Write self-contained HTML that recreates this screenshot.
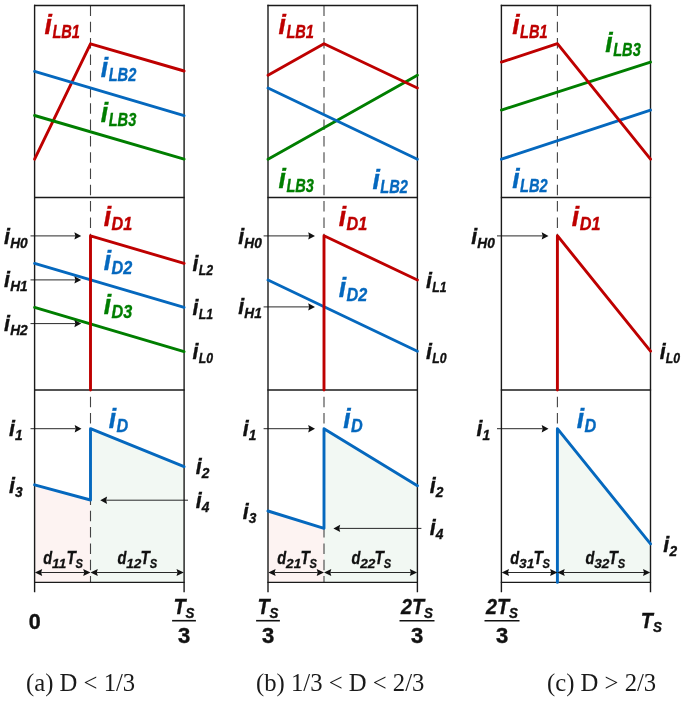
<!DOCTYPE html>
<html><head><meta charset="utf-8"><title>Diode current waveforms</title>
<style>html,body{margin:0;padding:0;background:#fff}svg{display:block}</style></head>
<body><svg width="685" height="701" viewBox="0 0 685 701">
<rect width="685" height="701" fill="#fff"/>
<polygon points="34.6,484.8 90.5,500.0 90.5,582.4 34.6,582.4" fill="#fdf3f2"/>
<polygon points="90.5,428.7 184.1,466.6 184.1,582.4 90.5,582.4" fill="#f2f8f3"/>
<polygon points="268.0,511.0 324.0,528.3 324.0,582.4 268.0,582.4" fill="#fdf3f2"/>
<polygon points="324.0,428.7 417.4,485.8 417.4,582.4 324.0,582.4" fill="#f2f8f3"/>
<polygon points="557.4,428.7 650.5,543.9 650.5,582.4 557.4,582.4" fill="#f2f8f3"/>
<line x1="90.5" y1="5.5" x2="90.5" y2="582.4" stroke="#444" stroke-width="1.1" stroke-dasharray="10.5 5.8"/>
<line x1="34.0" y1="5.5" x2="184.7" y2="5.5" stroke="#1a1a1a" stroke-width="1.4" />
<line x1="34.0" y1="197.5" x2="184.7" y2="197.5" stroke="#1a1a1a" stroke-width="1.4" />
<line x1="34.0" y1="390.0" x2="184.7" y2="390.0" stroke="#1a1a1a" stroke-width="1.4" />
<line x1="34.0" y1="582.4" x2="184.7" y2="582.4" stroke="#1a1a1a" stroke-width="1.4" />
<line x1="34.6" y1="4.8" x2="34.6" y2="592.3" stroke="#1a1a1a" stroke-width="1.4" />
<line x1="184.1" y1="4.8" x2="184.1" y2="592.3" stroke="#1a1a1a" stroke-width="1.4" />
<line x1="324.0" y1="5.5" x2="324.0" y2="582.4" stroke="#444" stroke-width="1.1" stroke-dasharray="10.5 5.8"/>
<line x1="267.4" y1="5.5" x2="418.0" y2="5.5" stroke="#1a1a1a" stroke-width="1.4" />
<line x1="267.4" y1="197.5" x2="418.0" y2="197.5" stroke="#1a1a1a" stroke-width="1.4" />
<line x1="267.4" y1="390.0" x2="418.0" y2="390.0" stroke="#1a1a1a" stroke-width="1.4" />
<line x1="267.4" y1="582.4" x2="418.0" y2="582.4" stroke="#1a1a1a" stroke-width="1.4" />
<line x1="268.0" y1="4.8" x2="268.0" y2="592.3" stroke="#1a1a1a" stroke-width="1.4" />
<line x1="417.4" y1="4.8" x2="417.4" y2="592.3" stroke="#1a1a1a" stroke-width="1.4" />
<line x1="557.4" y1="5.5" x2="557.4" y2="582.4" stroke="#444" stroke-width="1.1" stroke-dasharray="10.5 5.8"/>
<line x1="500.8" y1="5.5" x2="651.1" y2="5.5" stroke="#1a1a1a" stroke-width="1.4" />
<line x1="500.8" y1="197.5" x2="651.1" y2="197.5" stroke="#1a1a1a" stroke-width="1.4" />
<line x1="500.8" y1="390.0" x2="651.1" y2="390.0" stroke="#1a1a1a" stroke-width="1.4" />
<line x1="500.8" y1="582.4" x2="651.1" y2="582.4" stroke="#1a1a1a" stroke-width="1.4" />
<line x1="501.4" y1="4.8" x2="501.4" y2="592.3" stroke="#1a1a1a" stroke-width="1.4" />
<line x1="650.5" y1="4.8" x2="650.5" y2="592.3" stroke="#1a1a1a" stroke-width="1.4" />
<polyline points="34.6,159.2 90.5,43.8 184.1,71.0" fill="none" stroke="#be0000" stroke-width="2.9" stroke-linejoin="round" stroke-linecap="round"/>
<polyline points="34.6,71.4 184.1,115.7" fill="none" stroke="#0568be" stroke-width="2.9" stroke-linejoin="round" stroke-linecap="round"/>
<polyline points="34.6,115.5 184.1,159.2" fill="none" stroke="#007e00" stroke-width="2.9" stroke-linejoin="round" stroke-linecap="round"/>
<polyline points="268.0,159.2 417.4,75.2" fill="none" stroke="#007e00" stroke-width="2.9" stroke-linejoin="round" stroke-linecap="round"/>
<polyline points="268.0,88.0 417.4,159.2" fill="none" stroke="#0568be" stroke-width="2.9" stroke-linejoin="round" stroke-linecap="round"/>
<polyline points="268.0,75.2 324.0,43.7 417.4,88.0" fill="none" stroke="#be0000" stroke-width="2.9" stroke-linejoin="round" stroke-linecap="round"/>
<polyline points="501.4,159.2 650.5,110.1" fill="none" stroke="#0568be" stroke-width="2.9" stroke-linejoin="round" stroke-linecap="round"/>
<polyline points="501.4,110.1 650.5,62.1" fill="none" stroke="#007e00" stroke-width="2.9" stroke-linejoin="round" stroke-linecap="round"/>
<polyline points="501.4,62.1 557.4,43.7 650.5,159.2" fill="none" stroke="#be0000" stroke-width="2.9" stroke-linejoin="round" stroke-linecap="round"/>
<polyline points="34.6,307.4 184.1,351.7" fill="none" stroke="#007e00" stroke-width="2.9" stroke-linejoin="round" stroke-linecap="round"/>
<polyline points="34.6,263.4 184.1,307.4" fill="none" stroke="#0568be" stroke-width="2.9" stroke-linejoin="round" stroke-linecap="round"/>
<polyline points="90.5,390.0 90.5,235.8 184.1,263.4" fill="none" stroke="#be0000" stroke-width="2.9" stroke-linejoin="round" stroke-linecap="round"/>
<polyline points="268.0,280.0 417.4,351.2" fill="none" stroke="#0568be" stroke-width="2.9" stroke-linejoin="round" stroke-linecap="round"/>
<polyline points="324.0,390.0 324.0,235.7 417.4,280.0" fill="none" stroke="#be0000" stroke-width="2.9" stroke-linejoin="round" stroke-linecap="round"/>
<polyline points="557.4,390.0 557.4,235.7 650.5,351.2" fill="none" stroke="#be0000" stroke-width="2.9" stroke-linejoin="round" stroke-linecap="round"/>
<polyline points="34.6,484.8 90.5,500.0 90.5,428.7 184.1,466.6" fill="none" stroke="#0568be" stroke-width="2.9" stroke-linejoin="round" stroke-linecap="round"/>
<polyline points="268.0,511.0 324.0,528.3 324.0,428.7 417.4,485.8" fill="none" stroke="#0568be" stroke-width="2.9" stroke-linejoin="round" stroke-linecap="round"/>
<polyline points="557.4,582.4 557.4,428.7 650.5,543.9" fill="none" stroke="#0568be" stroke-width="2.9" stroke-linejoin="round" stroke-linecap="round"/>
<line x1="30.5" y1="235.9" x2="75.3" y2="235.9" stroke="#111" stroke-width="0.9" />
<polygon points="81.2,235.9 74.4,232.2 75.3,235.9 74.4,239.6" fill="#111"/>
<line x1="30.5" y1="279.9" x2="75.3" y2="279.9" stroke="#111" stroke-width="0.9" />
<polygon points="81.2,279.9 74.4,276.2 75.3,279.9 74.4,283.6" fill="#111"/>
<line x1="30.5" y1="323.6" x2="75.3" y2="323.6" stroke="#111" stroke-width="0.9" />
<polygon points="81.2,323.6 74.4,319.9 75.3,323.6 74.4,327.3" fill="#111"/>
<line x1="263.6" y1="235.9" x2="309.1" y2="235.9" stroke="#111" stroke-width="0.9" />
<polygon points="315.0,235.9 308.2,232.2 309.1,235.9 308.2,239.6" fill="#111"/>
<line x1="263.6" y1="306.9" x2="309.1" y2="306.9" stroke="#111" stroke-width="0.9" />
<polygon points="315.0,306.9 308.2,303.2 309.1,306.9 308.2,310.6" fill="#111"/>
<line x1="497.0" y1="235.9" x2="542.6" y2="235.9" stroke="#111" stroke-width="0.9" />
<polygon points="548.5,235.9 541.7,232.2 542.6,235.9 541.7,239.6" fill="#111"/>
<line x1="30.5" y1="428.7" x2="75.6" y2="428.7" stroke="#111" stroke-width="0.9" />
<polygon points="81.5,428.7 74.7,425.0 75.6,428.7 74.7,432.4" fill="#111"/>
<line x1="263.6" y1="428.7" x2="309.1" y2="428.7" stroke="#111" stroke-width="0.9" />
<polygon points="315.0,428.7 308.2,425.0 309.1,428.7 308.2,432.4" fill="#111"/>
<line x1="497.0" y1="428.7" x2="542.6" y2="428.7" stroke="#111" stroke-width="0.9" />
<polygon points="548.5,428.7 541.7,425.0 542.6,428.7 541.7,432.4" fill="#111"/>
<line x1="188.0" y1="500.2" x2="106.2" y2="500.2" stroke="#111" stroke-width="0.9" />
<polygon points="100.3,500.2 107.1,496.5 106.2,500.2 107.1,503.9" fill="#111"/>
<line x1="421.4" y1="528.4" x2="339.3" y2="528.4" stroke="#111" stroke-width="0.9" />
<polygon points="333.4,528.4 340.2,524.7 339.3,528.4 340.2,532.1" fill="#111"/>
<line x1="41.2" y1="572.5" x2="84.2" y2="572.5" stroke="#111" stroke-width="0.9" />
<polygon points="34.9,572.5 42.2,568.9 41.2,572.5 42.2,576.1" fill="#111"/>
<polygon points="90.5,572.5 83.2,568.9 84.2,572.5 83.2,576.1" fill="#111"/>
<line x1="96.8" y1="572.5" x2="177.5" y2="572.5" stroke="#111" stroke-width="0.9" />
<polygon points="90.5,572.5 97.8,568.9 96.8,572.5 97.8,576.1" fill="#111"/>
<polygon points="183.8,572.5 176.5,568.9 177.5,572.5 176.5,576.1" fill="#111"/>
<line x1="274.6" y1="572.5" x2="317.7" y2="572.5" stroke="#111" stroke-width="0.9" />
<polygon points="268.3,572.5 275.6,568.9 274.6,572.5 275.6,576.1" fill="#111"/>
<polygon points="324.0,572.5 316.7,568.9 317.7,572.5 316.7,576.1" fill="#111"/>
<line x1="330.3" y1="572.5" x2="410.8" y2="572.5" stroke="#111" stroke-width="0.9" />
<polygon points="324.0,572.5 331.3,568.9 330.3,572.5 331.3,576.1" fill="#111"/>
<polygon points="417.1,572.5 409.8,568.9 410.8,572.5 409.8,576.1" fill="#111"/>
<line x1="508.0" y1="572.5" x2="551.1" y2="572.5" stroke="#111" stroke-width="0.9" />
<polygon points="501.7,572.5 509.0,568.9 508.0,572.5 509.0,576.1" fill="#111"/>
<polygon points="557.4,572.5 550.1,568.9 551.1,572.5 550.1,576.1" fill="#111"/>
<line x1="563.7" y1="572.5" x2="644.0" y2="572.5" stroke="#111" stroke-width="0.9" />
<polygon points="557.4,572.5 564.7,568.9 563.7,572.5 564.7,576.1" fill="#111"/>
<polygon points="650.2,572.5 643.0,568.9 644.0,572.5 643.0,576.1" fill="#111"/>
<text transform="translate(44.55,33.50) scale(0.95,1)" font-size="28" fill="#be0000" stroke="#be0000" stroke-width="0.35" font-family="Liberation Sans, sans-serif" font-weight="bold" font-style="italic">i</text>
<text transform="translate(52.40,37.50) scale(0.82,1)" font-size="17.8" fill="#be0000" stroke="#be0000" stroke-width="0.35" font-family="Liberation Sans, sans-serif" font-weight="bold" font-style="italic">LB1</text>
<text transform="translate(100.85,77.40) scale(0.95,1)" font-size="28" fill="#0568be" stroke="#0568be" stroke-width="0.35" font-family="Liberation Sans, sans-serif" font-weight="bold" font-style="italic">i</text>
<text transform="translate(108.70,81.40) scale(0.82,1)" font-size="17.8" fill="#0568be" stroke="#0568be" stroke-width="0.35" font-family="Liberation Sans, sans-serif" font-weight="bold" font-style="italic">LB2</text>
<text transform="translate(100.85,121.70) scale(0.95,1)" font-size="28" fill="#007e00" stroke="#007e00" stroke-width="0.35" font-family="Liberation Sans, sans-serif" font-weight="bold" font-style="italic">i</text>
<text transform="translate(108.70,125.70) scale(0.82,1)" font-size="17.8" fill="#007e00" stroke="#007e00" stroke-width="0.35" font-family="Liberation Sans, sans-serif" font-weight="bold" font-style="italic">LB3</text>
<text transform="translate(278.55,34.00) scale(0.95,1)" font-size="28" fill="#be0000" stroke="#be0000" stroke-width="0.35" font-family="Liberation Sans, sans-serif" font-weight="bold" font-style="italic">i</text>
<text transform="translate(286.40,38.00) scale(0.82,1)" font-size="17.8" fill="#be0000" stroke="#be0000" stroke-width="0.35" font-family="Liberation Sans, sans-serif" font-weight="bold" font-style="italic">LB1</text>
<text transform="translate(278.55,188.30) scale(0.95,1)" font-size="28" fill="#007e00" stroke="#007e00" stroke-width="0.35" font-family="Liberation Sans, sans-serif" font-weight="bold" font-style="italic">i</text>
<text transform="translate(286.40,192.30) scale(0.82,1)" font-size="17.8" fill="#007e00" stroke="#007e00" stroke-width="0.35" font-family="Liberation Sans, sans-serif" font-weight="bold" font-style="italic">LB3</text>
<text transform="translate(372.45,188.60) scale(0.95,1)" font-size="28" fill="#0568be" stroke="#0568be" stroke-width="0.35" font-family="Liberation Sans, sans-serif" font-weight="bold" font-style="italic">i</text>
<text transform="translate(380.30,192.60) scale(0.82,1)" font-size="17.8" fill="#0568be" stroke="#0568be" stroke-width="0.35" font-family="Liberation Sans, sans-serif" font-weight="bold" font-style="italic">LB2</text>
<text transform="translate(512.15,33.80) scale(0.95,1)" font-size="28" fill="#be0000" stroke="#be0000" stroke-width="0.35" font-family="Liberation Sans, sans-serif" font-weight="bold" font-style="italic">i</text>
<text transform="translate(520.00,37.80) scale(0.82,1)" font-size="17.8" fill="#be0000" stroke="#be0000" stroke-width="0.35" font-family="Liberation Sans, sans-serif" font-weight="bold" font-style="italic">LB1</text>
<text transform="translate(605.35,52.20) scale(0.95,1)" font-size="28" fill="#007e00" stroke="#007e00" stroke-width="0.35" font-family="Liberation Sans, sans-serif" font-weight="bold" font-style="italic">i</text>
<text transform="translate(613.20,56.20) scale(0.82,1)" font-size="17.8" fill="#007e00" stroke="#007e00" stroke-width="0.35" font-family="Liberation Sans, sans-serif" font-weight="bold" font-style="italic">LB3</text>
<text transform="translate(512.15,187.60) scale(0.95,1)" font-size="28" fill="#0568be" stroke="#0568be" stroke-width="0.35" font-family="Liberation Sans, sans-serif" font-weight="bold" font-style="italic">i</text>
<text transform="translate(520.00,191.60) scale(0.82,1)" font-size="17.8" fill="#0568be" stroke="#0568be" stroke-width="0.35" font-family="Liberation Sans, sans-serif" font-weight="bold" font-style="italic">LB2</text>
<text transform="translate(103.75,225.70) scale(0.95,1)" font-size="28" fill="#be0000" stroke="#be0000" stroke-width="0.35" font-family="Liberation Sans, sans-serif" font-weight="bold" font-style="italic">i</text>
<text transform="translate(111.60,229.70) scale(0.91,1)" font-size="17.8" fill="#be0000" stroke="#be0000" stroke-width="0.35" font-family="Liberation Sans, sans-serif" font-weight="bold" font-style="italic">D1</text>
<text transform="translate(103.75,269.70) scale(0.95,1)" font-size="28" fill="#0568be" stroke="#0568be" stroke-width="0.35" font-family="Liberation Sans, sans-serif" font-weight="bold" font-style="italic">i</text>
<text transform="translate(111.60,273.70) scale(0.91,1)" font-size="17.8" fill="#0568be" stroke="#0568be" stroke-width="0.35" font-family="Liberation Sans, sans-serif" font-weight="bold" font-style="italic">D2</text>
<text transform="translate(103.75,313.70) scale(0.95,1)" font-size="28" fill="#007e00" stroke="#007e00" stroke-width="0.35" font-family="Liberation Sans, sans-serif" font-weight="bold" font-style="italic">i</text>
<text transform="translate(111.60,317.70) scale(0.91,1)" font-size="17.8" fill="#007e00" stroke="#007e00" stroke-width="0.35" font-family="Liberation Sans, sans-serif" font-weight="bold" font-style="italic">D3</text>
<text transform="translate(338.75,225.50) scale(0.95,1)" font-size="28" fill="#be0000" stroke="#be0000" stroke-width="0.35" font-family="Liberation Sans, sans-serif" font-weight="bold" font-style="italic">i</text>
<text transform="translate(346.60,229.50) scale(0.91,1)" font-size="17.8" fill="#be0000" stroke="#be0000" stroke-width="0.35" font-family="Liberation Sans, sans-serif" font-weight="bold" font-style="italic">D1</text>
<text transform="translate(338.75,297.20) scale(0.95,1)" font-size="28" fill="#0568be" stroke="#0568be" stroke-width="0.35" font-family="Liberation Sans, sans-serif" font-weight="bold" font-style="italic">i</text>
<text transform="translate(346.60,301.20) scale(0.91,1)" font-size="17.8" fill="#0568be" stroke="#0568be" stroke-width="0.35" font-family="Liberation Sans, sans-serif" font-weight="bold" font-style="italic">D2</text>
<text transform="translate(571.85,225.70) scale(0.95,1)" font-size="28" fill="#be0000" stroke="#be0000" stroke-width="0.35" font-family="Liberation Sans, sans-serif" font-weight="bold" font-style="italic">i</text>
<text transform="translate(579.70,229.70) scale(0.91,1)" font-size="17.8" fill="#be0000" stroke="#be0000" stroke-width="0.35" font-family="Liberation Sans, sans-serif" font-weight="bold" font-style="italic">D1</text>
<text transform="translate(4.12,243.80) scale(0.95,1)" font-size="22.5" fill="#111" stroke="#111" stroke-width="0.35" font-family="Liberation Sans, sans-serif" font-weight="bold" font-style="italic">i</text>
<text transform="translate(10.20,247.80) scale(0.94,1)" font-size="14.6" fill="#111" stroke="#111" stroke-width="0.35" font-family="Liberation Sans, sans-serif" font-weight="bold" font-style="italic">H0</text>
<text transform="translate(4.12,287.30) scale(0.95,1)" font-size="22.5" fill="#111" stroke="#111" stroke-width="0.35" font-family="Liberation Sans, sans-serif" font-weight="bold" font-style="italic">i</text>
<text transform="translate(10.20,291.30) scale(0.94,1)" font-size="14.6" fill="#111" stroke="#111" stroke-width="0.35" font-family="Liberation Sans, sans-serif" font-weight="bold" font-style="italic">H1</text>
<text transform="translate(4.12,331.00) scale(0.95,1)" font-size="22.5" fill="#111" stroke="#111" stroke-width="0.35" font-family="Liberation Sans, sans-serif" font-weight="bold" font-style="italic">i</text>
<text transform="translate(10.20,335.00) scale(0.94,1)" font-size="14.6" fill="#111" stroke="#111" stroke-width="0.35" font-family="Liberation Sans, sans-serif" font-weight="bold" font-style="italic">H2</text>
<text transform="translate(192.62,270.90) scale(0.95,1)" font-size="22.5" fill="#111" stroke="#111" stroke-width="0.35" font-family="Liberation Sans, sans-serif" font-weight="bold" font-style="italic">i</text>
<text transform="translate(198.70,274.90) scale(0.84,1)" font-size="14.6" fill="#111" stroke="#111" stroke-width="0.35" font-family="Liberation Sans, sans-serif" font-weight="bold" font-style="italic">L2</text>
<text transform="translate(192.62,314.90) scale(0.95,1)" font-size="22.5" fill="#111" stroke="#111" stroke-width="0.35" font-family="Liberation Sans, sans-serif" font-weight="bold" font-style="italic">i</text>
<text transform="translate(198.70,318.90) scale(0.84,1)" font-size="14.6" fill="#111" stroke="#111" stroke-width="0.35" font-family="Liberation Sans, sans-serif" font-weight="bold" font-style="italic">L1</text>
<text transform="translate(192.62,358.90) scale(0.95,1)" font-size="22.5" fill="#111" stroke="#111" stroke-width="0.35" font-family="Liberation Sans, sans-serif" font-weight="bold" font-style="italic">i</text>
<text transform="translate(198.70,362.90) scale(0.84,1)" font-size="14.6" fill="#111" stroke="#111" stroke-width="0.35" font-family="Liberation Sans, sans-serif" font-weight="bold" font-style="italic">L0</text>
<text transform="translate(238.22,243.80) scale(0.95,1)" font-size="22.5" fill="#111" stroke="#111" stroke-width="0.35" font-family="Liberation Sans, sans-serif" font-weight="bold" font-style="italic">i</text>
<text transform="translate(244.30,247.80) scale(0.94,1)" font-size="14.6" fill="#111" stroke="#111" stroke-width="0.35" font-family="Liberation Sans, sans-serif" font-weight="bold" font-style="italic">H0</text>
<text transform="translate(238.22,313.50) scale(0.95,1)" font-size="22.5" fill="#111" stroke="#111" stroke-width="0.35" font-family="Liberation Sans, sans-serif" font-weight="bold" font-style="italic">i</text>
<text transform="translate(244.30,317.50) scale(0.94,1)" font-size="14.6" fill="#111" stroke="#111" stroke-width="0.35" font-family="Liberation Sans, sans-serif" font-weight="bold" font-style="italic">H1</text>
<text transform="translate(426.11,288.00) scale(0.95,1)" font-size="22.5" fill="#111" stroke="#111" stroke-width="0.35" font-family="Liberation Sans, sans-serif" font-weight="bold" font-style="italic">i</text>
<text transform="translate(432.20,292.00) scale(0.84,1)" font-size="14.6" fill="#111" stroke="#111" stroke-width="0.35" font-family="Liberation Sans, sans-serif" font-weight="bold" font-style="italic">L1</text>
<text transform="translate(426.11,359.00) scale(0.95,1)" font-size="22.5" fill="#111" stroke="#111" stroke-width="0.35" font-family="Liberation Sans, sans-serif" font-weight="bold" font-style="italic">i</text>
<text transform="translate(432.20,363.00) scale(0.84,1)" font-size="14.6" fill="#111" stroke="#111" stroke-width="0.35" font-family="Liberation Sans, sans-serif" font-weight="bold" font-style="italic">L0</text>
<text transform="translate(471.21,243.80) scale(0.95,1)" font-size="22.5" fill="#111" stroke="#111" stroke-width="0.35" font-family="Liberation Sans, sans-serif" font-weight="bold" font-style="italic">i</text>
<text transform="translate(477.30,247.80) scale(0.94,1)" font-size="14.6" fill="#111" stroke="#111" stroke-width="0.35" font-family="Liberation Sans, sans-serif" font-weight="bold" font-style="italic">H0</text>
<text transform="translate(659.72,359.00) scale(0.95,1)" font-size="22.5" fill="#111" stroke="#111" stroke-width="0.35" font-family="Liberation Sans, sans-serif" font-weight="bold" font-style="italic">i</text>
<text transform="translate(665.80,363.00) scale(0.84,1)" font-size="14.6" fill="#111" stroke="#111" stroke-width="0.35" font-family="Liberation Sans, sans-serif" font-weight="bold" font-style="italic">L0</text>
<text transform="translate(108.65,428.30) scale(0.95,1)" font-size="28" fill="#0568be" stroke="#0568be" stroke-width="0.35" font-family="Liberation Sans, sans-serif" font-weight="bold" font-style="italic">i</text>
<text transform="translate(116.50,432.30) scale(0.91,1)" font-size="17.8" fill="#0568be" stroke="#0568be" stroke-width="0.35" font-family="Liberation Sans, sans-serif" font-weight="bold" font-style="italic">D</text>
<text transform="translate(343.25,428.30) scale(0.95,1)" font-size="28" fill="#0568be" stroke="#0568be" stroke-width="0.35" font-family="Liberation Sans, sans-serif" font-weight="bold" font-style="italic">i</text>
<text transform="translate(351.10,432.30) scale(0.91,1)" font-size="17.8" fill="#0568be" stroke="#0568be" stroke-width="0.35" font-family="Liberation Sans, sans-serif" font-weight="bold" font-style="italic">D</text>
<text transform="translate(576.75,428.00) scale(0.95,1)" font-size="28" fill="#0568be" stroke="#0568be" stroke-width="0.35" font-family="Liberation Sans, sans-serif" font-weight="bold" font-style="italic">i</text>
<text transform="translate(584.60,432.00) scale(0.91,1)" font-size="17.8" fill="#0568be" stroke="#0568be" stroke-width="0.35" font-family="Liberation Sans, sans-serif" font-weight="bold" font-style="italic">D</text>
<text transform="translate(9.02,436.00) scale(0.95,1)" font-size="22.5" fill="#111" stroke="#111" stroke-width="0.35" font-family="Liberation Sans, sans-serif" font-weight="bold" font-style="italic">i</text>
<text transform="translate(15.10,440.00) scale(0.94,1)" font-size="14.6" fill="#111" stroke="#111" stroke-width="0.35" font-family="Liberation Sans, sans-serif" font-weight="bold" font-style="italic">1</text>
<text transform="translate(9.02,493.00) scale(0.95,1)" font-size="22.5" fill="#111" stroke="#111" stroke-width="0.35" font-family="Liberation Sans, sans-serif" font-weight="bold" font-style="italic">i</text>
<text transform="translate(15.10,497.00) scale(0.94,1)" font-size="14.6" fill="#111" stroke="#111" stroke-width="0.35" font-family="Liberation Sans, sans-serif" font-weight="bold" font-style="italic">3</text>
<text transform="translate(195.72,474.00) scale(0.95,1)" font-size="22.5" fill="#111" stroke="#111" stroke-width="0.35" font-family="Liberation Sans, sans-serif" font-weight="bold" font-style="italic">i</text>
<text transform="translate(201.80,478.00) scale(0.94,1)" font-size="14.6" fill="#111" stroke="#111" stroke-width="0.35" font-family="Liberation Sans, sans-serif" font-weight="bold" font-style="italic">2</text>
<text transform="translate(195.72,508.00) scale(0.95,1)" font-size="22.5" fill="#111" stroke="#111" stroke-width="0.35" font-family="Liberation Sans, sans-serif" font-weight="bold" font-style="italic">i</text>
<text transform="translate(201.80,512.00) scale(0.94,1)" font-size="14.6" fill="#111" stroke="#111" stroke-width="0.35" font-family="Liberation Sans, sans-serif" font-weight="bold" font-style="italic">4</text>
<text transform="translate(242.72,436.00) scale(0.95,1)" font-size="22.5" fill="#111" stroke="#111" stroke-width="0.35" font-family="Liberation Sans, sans-serif" font-weight="bold" font-style="italic">i</text>
<text transform="translate(248.80,440.00) scale(0.94,1)" font-size="14.6" fill="#111" stroke="#111" stroke-width="0.35" font-family="Liberation Sans, sans-serif" font-weight="bold" font-style="italic">1</text>
<text transform="translate(242.72,519.00) scale(0.95,1)" font-size="22.5" fill="#111" stroke="#111" stroke-width="0.35" font-family="Liberation Sans, sans-serif" font-weight="bold" font-style="italic">i</text>
<text transform="translate(248.80,523.00) scale(0.94,1)" font-size="14.6" fill="#111" stroke="#111" stroke-width="0.35" font-family="Liberation Sans, sans-serif" font-weight="bold" font-style="italic">3</text>
<text transform="translate(429.71,493.00) scale(0.95,1)" font-size="22.5" fill="#111" stroke="#111" stroke-width="0.35" font-family="Liberation Sans, sans-serif" font-weight="bold" font-style="italic">i</text>
<text transform="translate(435.80,497.00) scale(0.94,1)" font-size="14.6" fill="#111" stroke="#111" stroke-width="0.35" font-family="Liberation Sans, sans-serif" font-weight="bold" font-style="italic">2</text>
<text transform="translate(429.71,535.00) scale(0.95,1)" font-size="22.5" fill="#111" stroke="#111" stroke-width="0.35" font-family="Liberation Sans, sans-serif" font-weight="bold" font-style="italic">i</text>
<text transform="translate(435.80,539.00) scale(0.94,1)" font-size="14.6" fill="#111" stroke="#111" stroke-width="0.35" font-family="Liberation Sans, sans-serif" font-weight="bold" font-style="italic">4</text>
<text transform="translate(476.41,436.00) scale(0.95,1)" font-size="22.5" fill="#111" stroke="#111" stroke-width="0.35" font-family="Liberation Sans, sans-serif" font-weight="bold" font-style="italic">i</text>
<text transform="translate(482.50,440.00) scale(0.94,1)" font-size="14.6" fill="#111" stroke="#111" stroke-width="0.35" font-family="Liberation Sans, sans-serif" font-weight="bold" font-style="italic">1</text>
<text transform="translate(663.32,552.00) scale(0.95,1)" font-size="22.5" fill="#111" stroke="#111" stroke-width="0.35" font-family="Liberation Sans, sans-serif" font-weight="bold" font-style="italic">i</text>
<text transform="translate(669.40,556.00) scale(0.94,1)" font-size="14.6" fill="#111" stroke="#111" stroke-width="0.35" font-family="Liberation Sans, sans-serif" font-weight="bold" font-style="italic">2</text>
<text transform="translate(43.20,564.10) scale(0.8,1)" font-size="18.2" fill="#111" stroke="#111" stroke-width="0.3" font-family="Liberation Sans, sans-serif" font-weight="bold" font-style="italic">d</text>
<text transform="translate(52.10,567.70) scale(1.03,1)" font-size="13.2" fill="#111" stroke="#111" stroke-width="0.3" font-family="Liberation Sans, sans-serif" font-weight="bold" font-style="italic">11</text>
<text transform="translate(66.40,564.10) scale(0.84,1)" font-size="18.2" fill="#111" stroke="#111" stroke-width="0.3" font-family="Liberation Sans, sans-serif" font-weight="bold" font-style="italic">T</text>
<text transform="translate(75.50,567.70) scale(0.84,1)" font-size="13.2" fill="#111" stroke="#111" stroke-width="0.3" font-family="Liberation Sans, sans-serif" font-weight="bold" font-style="italic">S</text>
<text transform="translate(117.40,564.10) scale(0.8,1)" font-size="18.2" fill="#111" stroke="#111" stroke-width="0.3" font-family="Liberation Sans, sans-serif" font-weight="bold" font-style="italic">d</text>
<text transform="translate(126.30,567.70) scale(1.03,1)" font-size="13.2" fill="#111" stroke="#111" stroke-width="0.3" font-family="Liberation Sans, sans-serif" font-weight="bold" font-style="italic">12</text>
<text transform="translate(140.60,564.10) scale(0.84,1)" font-size="18.2" fill="#111" stroke="#111" stroke-width="0.3" font-family="Liberation Sans, sans-serif" font-weight="bold" font-style="italic">T</text>
<text transform="translate(149.70,567.70) scale(0.84,1)" font-size="13.2" fill="#111" stroke="#111" stroke-width="0.3" font-family="Liberation Sans, sans-serif" font-weight="bold" font-style="italic">S</text>
<text transform="translate(277.20,564.10) scale(0.8,1)" font-size="18.2" fill="#111" stroke="#111" stroke-width="0.3" font-family="Liberation Sans, sans-serif" font-weight="bold" font-style="italic">d</text>
<text transform="translate(286.10,567.70) scale(1.03,1)" font-size="13.2" fill="#111" stroke="#111" stroke-width="0.3" font-family="Liberation Sans, sans-serif" font-weight="bold" font-style="italic">21</text>
<text transform="translate(300.40,564.10) scale(0.84,1)" font-size="18.2" fill="#111" stroke="#111" stroke-width="0.3" font-family="Liberation Sans, sans-serif" font-weight="bold" font-style="italic">T</text>
<text transform="translate(309.50,567.70) scale(0.84,1)" font-size="13.2" fill="#111" stroke="#111" stroke-width="0.3" font-family="Liberation Sans, sans-serif" font-weight="bold" font-style="italic">S</text>
<text transform="translate(351.40,564.10) scale(0.8,1)" font-size="18.2" fill="#111" stroke="#111" stroke-width="0.3" font-family="Liberation Sans, sans-serif" font-weight="bold" font-style="italic">d</text>
<text transform="translate(360.30,567.70) scale(1.03,1)" font-size="13.2" fill="#111" stroke="#111" stroke-width="0.3" font-family="Liberation Sans, sans-serif" font-weight="bold" font-style="italic">22</text>
<text transform="translate(374.60,564.10) scale(0.84,1)" font-size="18.2" fill="#111" stroke="#111" stroke-width="0.3" font-family="Liberation Sans, sans-serif" font-weight="bold" font-style="italic">T</text>
<text transform="translate(383.70,567.70) scale(0.84,1)" font-size="13.2" fill="#111" stroke="#111" stroke-width="0.3" font-family="Liberation Sans, sans-serif" font-weight="bold" font-style="italic">S</text>
<text transform="translate(510.20,564.10) scale(0.8,1)" font-size="18.2" fill="#111" stroke="#111" stroke-width="0.3" font-family="Liberation Sans, sans-serif" font-weight="bold" font-style="italic">d</text>
<text transform="translate(519.10,567.70) scale(1.03,1)" font-size="13.2" fill="#111" stroke="#111" stroke-width="0.3" font-family="Liberation Sans, sans-serif" font-weight="bold" font-style="italic">31</text>
<text transform="translate(533.40,564.10) scale(0.84,1)" font-size="18.2" fill="#111" stroke="#111" stroke-width="0.3" font-family="Liberation Sans, sans-serif" font-weight="bold" font-style="italic">T</text>
<text transform="translate(542.50,567.70) scale(0.84,1)" font-size="13.2" fill="#111" stroke="#111" stroke-width="0.3" font-family="Liberation Sans, sans-serif" font-weight="bold" font-style="italic">S</text>
<text transform="translate(585.40,564.10) scale(0.8,1)" font-size="18.2" fill="#111" stroke="#111" stroke-width="0.3" font-family="Liberation Sans, sans-serif" font-weight="bold" font-style="italic">d</text>
<text transform="translate(594.30,567.70) scale(1.03,1)" font-size="13.2" fill="#111" stroke="#111" stroke-width="0.3" font-family="Liberation Sans, sans-serif" font-weight="bold" font-style="italic">32</text>
<text transform="translate(608.60,564.10) scale(0.84,1)" font-size="18.2" fill="#111" stroke="#111" stroke-width="0.3" font-family="Liberation Sans, sans-serif" font-weight="bold" font-style="italic">T</text>
<text transform="translate(617.70,567.70) scale(0.84,1)" font-size="13.2" fill="#111" stroke="#111" stroke-width="0.3" font-family="Liberation Sans, sans-serif" font-weight="bold" font-style="italic">S</text>
<text x="34.8" y="628.5" font-size="21.5" text-anchor="middle" fill="#111" stroke="#111" stroke-width="0.4" font-family="Liberation Sans, sans-serif" font-weight="bold">0</text>
<g transform="translate(184.0,614.1) scale(0.92,1)" fill="#111" stroke="#111" stroke-width="0.35" font-family="Liberation Sans, sans-serif" font-weight="bold" font-style="italic"><text x="0" y="0" font-size="21.5" text-anchor="middle">T<tspan font-size="14.5" dy="3.8">S</tspan></text></g>
<line x1="172.1" y1="620.7" x2="195.9" y2="620.7" stroke="#111" stroke-width="1.6" />
<text x="184.2" y="643.2" font-size="22" text-anchor="middle" fill="#111" stroke="#111" stroke-width="0.4" font-family="Liberation Sans, sans-serif" font-weight="bold">3</text>
<g transform="translate(268.0,614.1) scale(0.92,1)" fill="#111" stroke="#111" stroke-width="0.35" font-family="Liberation Sans, sans-serif" font-weight="bold" font-style="italic"><text x="0" y="0" font-size="21.5" text-anchor="middle">T<tspan font-size="14.5" dy="3.8">S</tspan></text></g>
<line x1="256.1" y1="620.7" x2="279.9" y2="620.7" stroke="#111" stroke-width="1.6" />
<text x="268.2" y="643.2" font-size="22" text-anchor="middle" fill="#111" stroke="#111" stroke-width="0.4" font-family="Liberation Sans, sans-serif" font-weight="bold">3</text>
<g transform="translate(417.0,614.1) scale(0.92,1)" fill="#111" stroke="#111" stroke-width="0.35" font-family="Liberation Sans, sans-serif" font-weight="bold" font-style="italic"><text x="0" y="0" font-size="21.5" text-anchor="middle">2T<tspan font-size="14.5" dy="3.8">S</tspan></text></g>
<line x1="399.5" y1="620.7" x2="434.5" y2="620.7" stroke="#111" stroke-width="1.6" />
<text x="417.2" y="643.2" font-size="22" text-anchor="middle" fill="#111" stroke="#111" stroke-width="0.4" font-family="Liberation Sans, sans-serif" font-weight="bold">3</text>
<g transform="translate(502.0,614.1) scale(0.92,1)" fill="#111" stroke="#111" stroke-width="0.35" font-family="Liberation Sans, sans-serif" font-weight="bold" font-style="italic"><text x="0" y="0" font-size="21.5" text-anchor="middle">2T<tspan font-size="14.5" dy="3.8">S</tspan></text></g>
<line x1="484.5" y1="620.7" x2="519.5" y2="620.7" stroke="#111" stroke-width="1.6" />
<text x="502.2" y="643.2" font-size="22" text-anchor="middle" fill="#111" stroke="#111" stroke-width="0.4" font-family="Liberation Sans, sans-serif" font-weight="bold">3</text>
<g transform="translate(651.3,628.0) scale(0.92,1)" fill="#111" stroke="#111" stroke-width="0.35" font-family="Liberation Sans, sans-serif" font-weight="bold" font-style="italic"><text x="0" y="0" font-size="21.5" text-anchor="middle">T<tspan font-size="14.5" dy="3.8">S</tspan></text></g>
<text x="26.0" y="691.0" font-size="24.7" fill="#1a1a1a" font-family="Liberation Serif, serif">(a) D &lt; 1/3</text>
<text x="256.0" y="691.0" font-size="24.7" fill="#1a1a1a" font-family="Liberation Serif, serif">(b) 1/3 &lt; D &lt; 2/3</text>
<text x="547.0" y="691.0" font-size="24.7" fill="#1a1a1a" font-family="Liberation Serif, serif">(c) D &gt; 2/3</text>
</svg></body></html>
